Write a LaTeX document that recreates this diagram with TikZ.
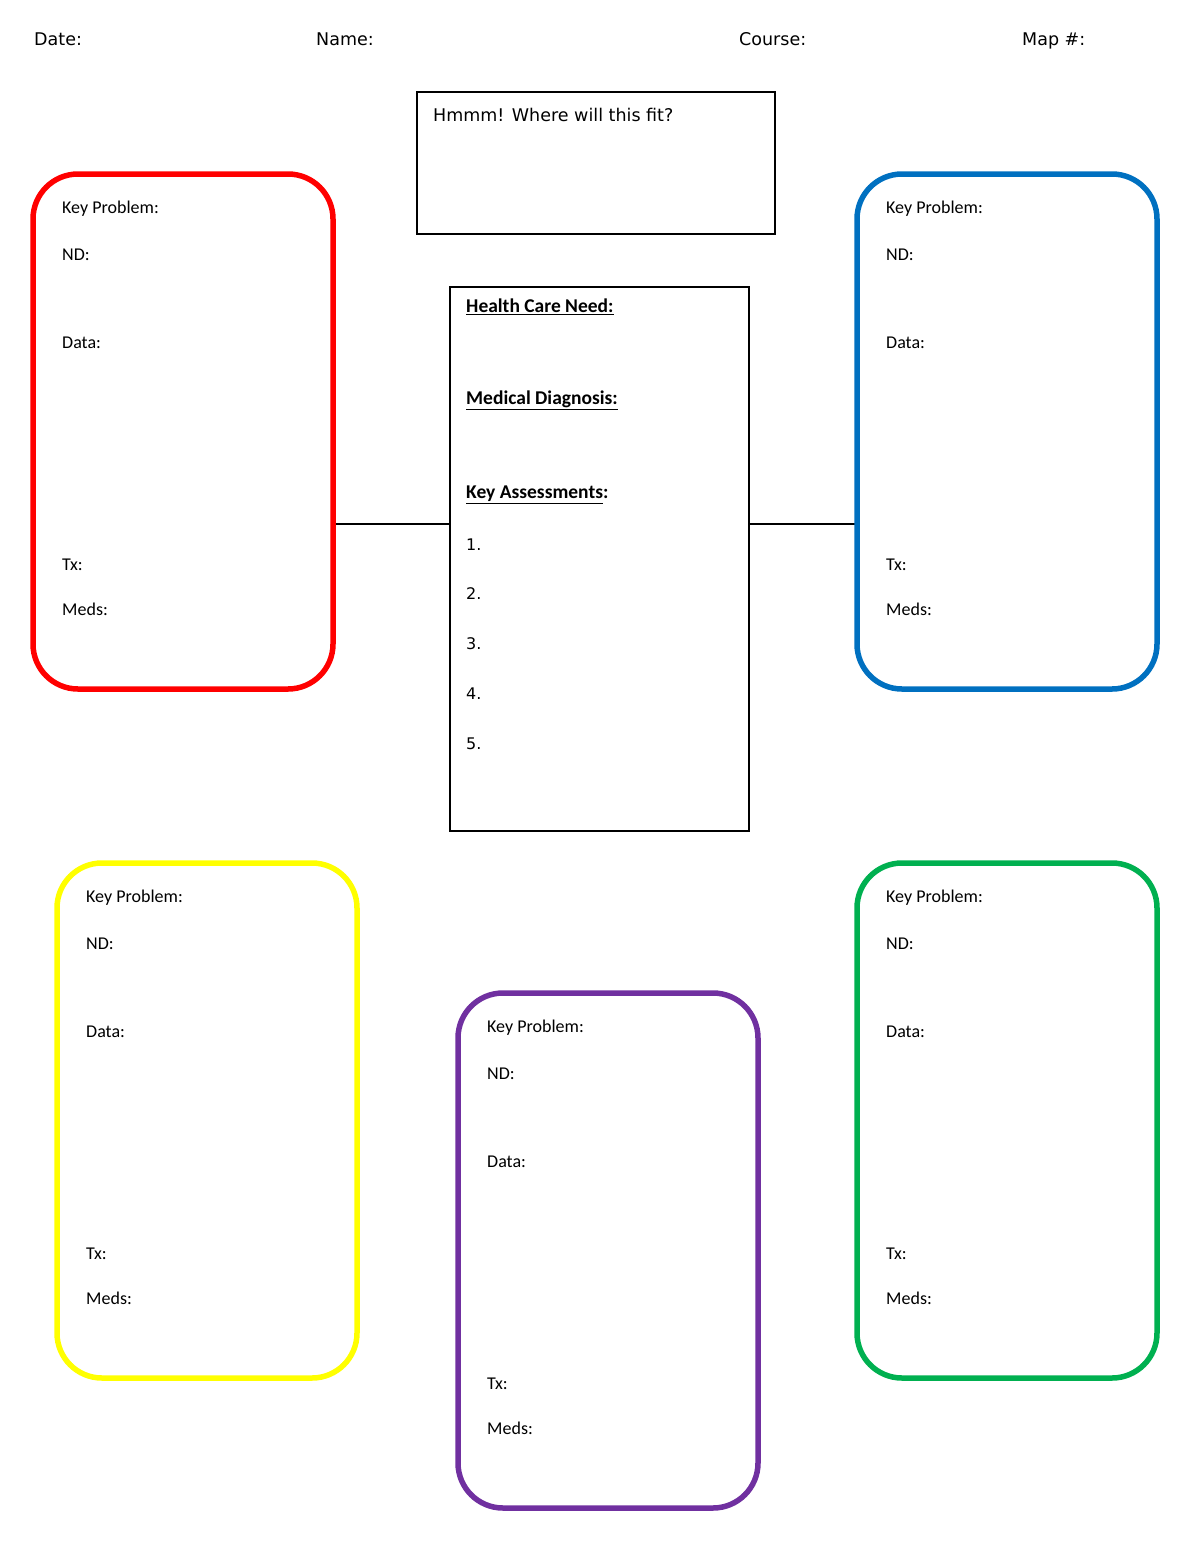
\documentclass[tikz,border=0pt]{standalone}
\usepackage{fontspec}
\setmainfont{Carlito}
\newfontfamily\vfont{DejaVu Sans}
\begin{document}
\begin{tikzpicture}[x=1pt,y=-1pt,
  lbl/.style={anchor=west,inner sep=0pt,font=\fontsize{18}{20}\selectfont},
  vlbl/.style={anchor=base west,inner sep=0pt,font=\vfont\fontsize{17.5}{20}\selectfont},
  blbl/.style={anchor=west,inner sep=0pt,font=\bfseries\fontsize{19.5}{20}\selectfont},
  kbox/.style={line width=5.5pt,rounded corners=45pt}]
\useasboundingbox (0,0) rectangle (1200,1553);
\node[vlbl] (date) at (34,45) {Date:};
\node[vlbl] (name) at (316,45) {Name:};
\node[vlbl] (course) at (739,45) {Course:};
\node[vlbl] (map) at (1022,45) {Map \#:};
\draw[line width=2.2pt] (417,92) rectangle (775,234);
\node[vlbl] (hm) at (433,121) {Hmmm! Where will this fit?};
\draw[line width=2.2pt] (450,287) coordinate (ctl) rectangle (749,831);
\coordinate (cl) at (450,524); \coordinate (cr) at (749,524);
\coordinate (rl) at (333,524); \coordinate (bl) at (857,524);
\draw[line width=1.8pt] (rl) -- (cl);
\draw[line width=1.8pt] (cr) -- (bl);
\node[blbl] (hcn) at (466,307) {\underline{Health Care Need:}};
\node[blbl] (md) at (466,400) {\underline{Medical Diagnosis:}};
\node[blbl] (ka) at (466,495) {\underline{Key Assessments}:};
\foreach \i/\yy in {1/550,2/599,3/649,4/699,5/749}
  \node[vlbl,font=\vfont\fontsize{16}{18}\selectfont] (n\i) at (466,\yy) {\i.};
\foreach \c/\x/\y/\nm in {red/33/174/r, {rgb,255:red,0;green,112;blue,192}/857/174/b, {rgb,255:red,255;green,255;blue,0}/57/863/y, {rgb,255:red,0;green,176;blue,80}/857/863/g, {rgb,255:red,112;green,48;blue,160}/458/993/p}{
  \draw[kbox,color=\c] (\x,\y) rectangle ++(300,515);
  \node[lbl] (\nm k) at (\x+29,\y+35) {Key Problem:};
  \node[lbl] (\nm n) at (\x+29,\y+81) {ND:};
  \node[lbl] (\nm d) at (\x+29,\y+169) {Data:};
  \node[lbl] (\nm t) at (\x+29,\y+391) {Tx:};
  \node[lbl] (\nm m) at (\x+29,\y+435) {Meds:};
}
\end{tikzpicture}
\end{document}
